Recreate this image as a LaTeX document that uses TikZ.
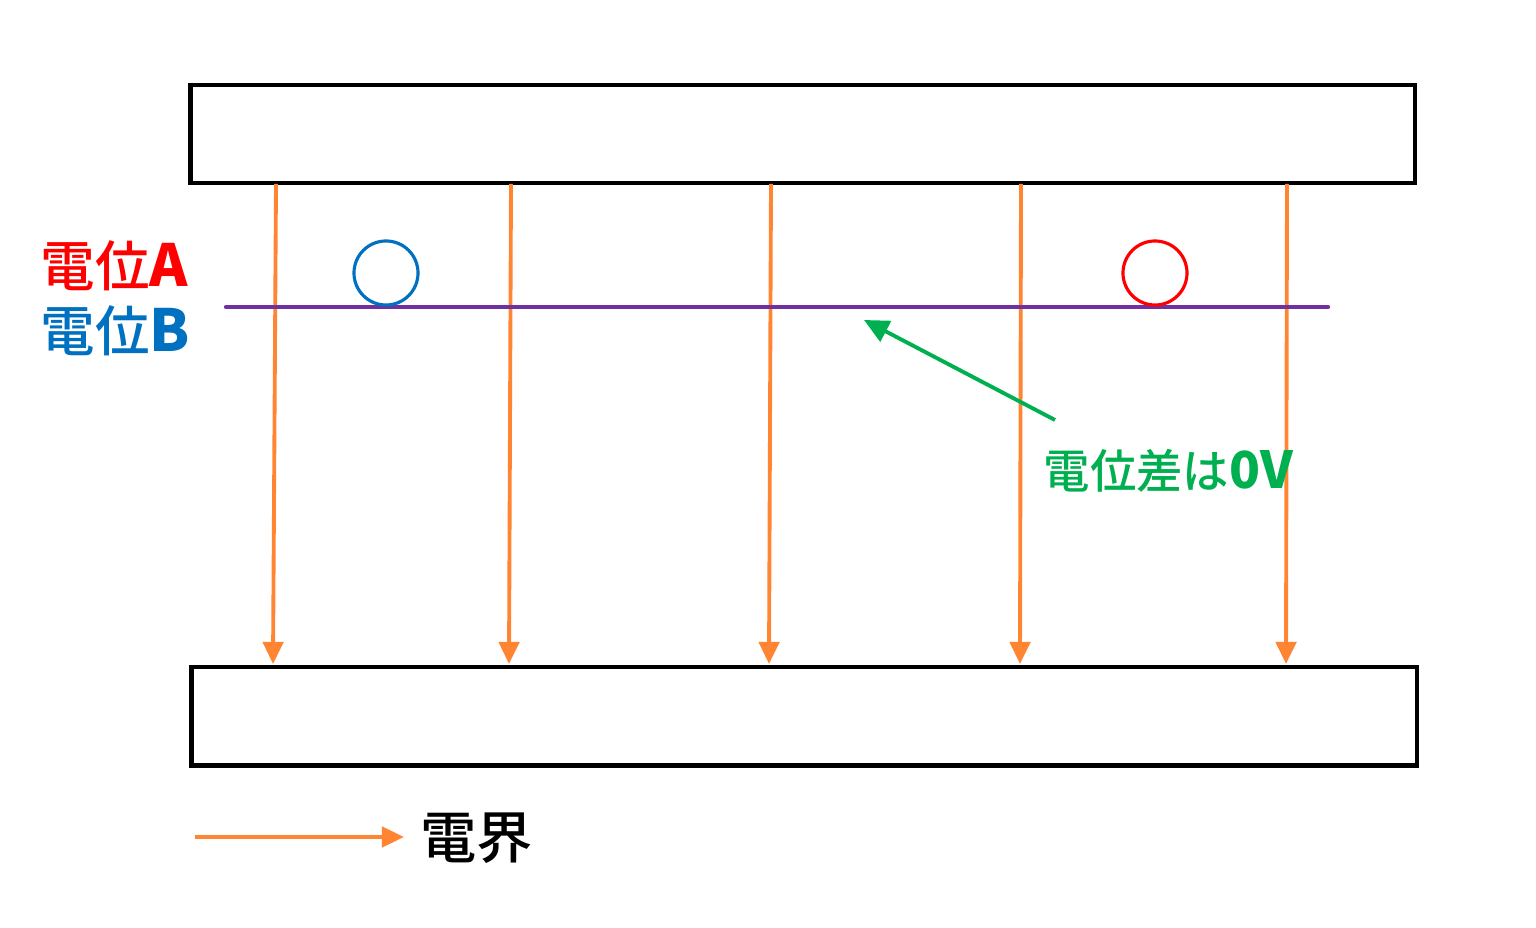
\documentclass[tikz,border=0pt]{standalone}
\usepackage{fontspec}
\newfontfamily\jp{Noto Sans CJK JP}[BoldFont={* Medium}]
\newfontfamily\jpb{Noto Sans CJK JP}[UprightFont={* Bold}]
\usetikzlibrary{arrows.meta}
\definecolor{eorange}{HTML}{FF8533}
\definecolor{epurple}{HTML}{7030A0}
\definecolor{eblue}{HTML}{0070C0}
\definecolor{ered}{HTML}{FF0000}
\definecolor{egreen}{HTML}{00B050}
\tikzset{
  plate/.style={draw=black, line width=1.2pt, minimum height=0.986cm, inner sep=0pt, outer sep=0pt, anchor=north west},
  field/.style={draw=eorange, line width=1.1pt, -{Triangle[length=6.3pt,width=5.8pt]}},
  charge/.style={circle, line width=0.9pt, minimum size=0.64cm, inner sep=0pt},
  lbl/.style={inner sep=0pt, anchor=west, font=\jp\bfseries}
}
\newcommand{\lat}[1]{{\jpb #1}}
\begin{document}
\begin{tikzpicture}[x=0.01cm,y=-0.01cm]
\useasboundingbox (0,0) rectangle (1536,928);
% plates
\node[plate, minimum width=12.235cm] (top) at (190.5,84.7) {};
\node[plate, minimum width=12.245cm] (bot) at (191.5,666.8) {};
% field lines
\foreach \i/\xa/\xb in {1/276/273, 2/511/509, 3/771/769, 4/1021/1020, 5/1287/1286}{
  \coordinate (s\i) at (\xa,184);
  \coordinate (e\i) at (\xb,664);
  \draw[field] (s\i) -- (e\i);
}
% equipotential line
\coordinate (eqL) at (226,307);
\coordinate (eqR) at (1328,307);
\draw[epurple, line width=1.2pt, line cap=round] (eqL) -- (eqR);
% charges
\node[charge, draw=eblue] (cb) at (386,273) {};
\node[charge, draw=ered] (cr) at (1155,273) {};
% labels
\node[lbl, text=ered, font=\jp\bfseries\fontsize{15.5}{15.5}\selectfont] (la) at (40,266) {電位\lat{\fontsize{16.5}{16.5}\selectfont A}};
\node[lbl, text=eblue, font=\jp\bfseries\fontsize{15.5}{15.5}\selectfont] (lb) at (40,331) {電位\lat{\fontsize{16.5}{16.5}\selectfont B}};
\node[lbl, text=egreen, font=\jp\bfseries\fontsize{13.2}{13.2}\selectfont] (lz) at (1043,471) {電位差は\lat{\fontsize{14.5}{14.5}\selectfont 0V}};
\coordinate (gs) at (1055,420);
\coordinate (ge) at (864,320);
\draw[egreen, line width=1.1pt, -{Triangle[length=7pt,width=6.5pt]}] (gs) -- (ge);
% legend
\coordinate (leg1) at (195,837);
\coordinate (leg2) at (404,837);
\draw[field] (leg1) -- (leg2);
\node[lbl, text=black, font=\jp\bfseries\fontsize{16}{16}\selectfont] (le) at (420,838) {電界};
\end{tikzpicture}
\end{document}
